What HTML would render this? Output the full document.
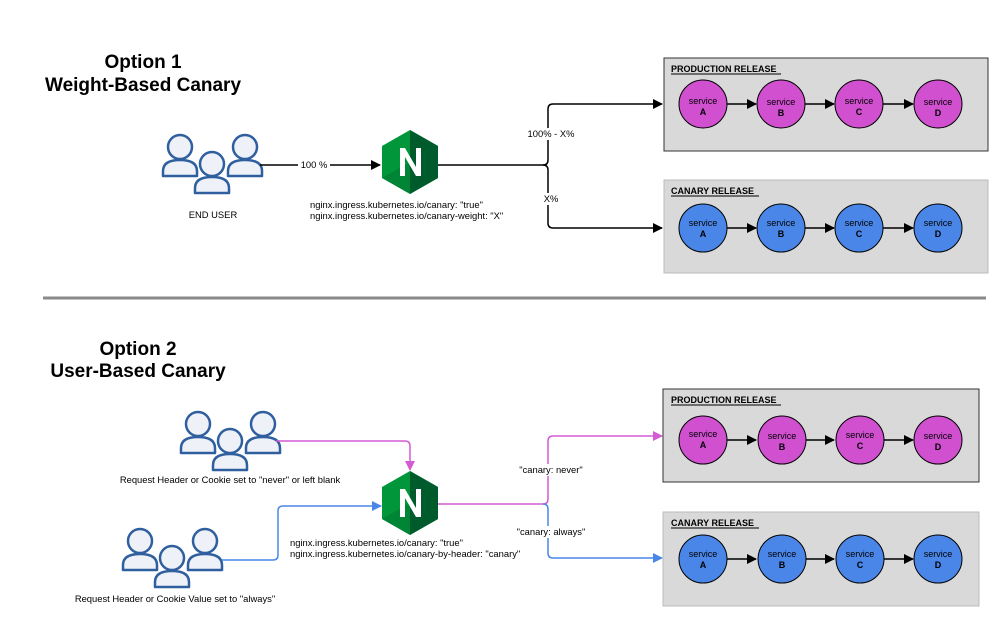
<!DOCTYPE html>
<html><head><meta charset="utf-8"><style>
body{margin:0;background:#fff}
svg{display:block;font-family:"Liberation Sans",Arial,sans-serif}
</style></head><body>
<svg width="1000" height="621" viewBox="0 0 1000 621" xmlns="http://www.w3.org/2000/svg">
<defs>
<marker id="ab" markerWidth="10" markerHeight="10" refX="9" refY="5" orient="auto" markerUnits="userSpaceOnUse"><path d="M0,0 L10,5 L0,10 Z" fill="#000"/></marker>
<marker id="ap" markerWidth="10" markerHeight="10" refX="9" refY="5" orient="auto" markerUnits="userSpaceOnUse"><path d="M0,0 L10,5 L0,10 Z" fill="#d35cd3"/></marker>
<marker id="abl" markerWidth="10" markerHeight="10" refX="9" refY="5" orient="auto" markerUnits="userSpaceOnUse"><path d="M0,0 L10,5 L0,10 Z" fill="#4a86e8"/></marker>
<g id="u"><circle cx="0" cy="-1" r="12" fill="#eef2f8" stroke="#2f5f9e" stroke-width="2.5"/><path d="M-17,28 V23 Q-17,12 0,12 Q17,12 17,23 V28 Z" fill="#eef2f8" stroke="#2f5f9e" stroke-width="2.5" stroke-linejoin="round"/></g>
<g id="users"><use href="#u" x="-32" y="-15"/><use href="#u" x="33" y="-15"/><use href="#u" x="0" y="2"/></g>
<g id="ng"><polygon points="0,-32 28,-16 28,16 0,32 -28,16 -28,-16" fill="#009639"/><polygon points="0,-32 28,-16 28,16 0,32" fill="#005b2c"/><polygon points="-28,16 0,32 0,0" fill="#007a35" opacity="0.6"/><path d="M-10,14 V-14 H-5 L6,5 V-14 H11 V14 H6 L-5,-5 V14 Z" fill="#fff"/></g>
</defs>

<g font-weight="bold" font-size="19" text-anchor="middle" fill="#000">
<text x="143" y="68">Option 1</text><text x="143" y="91">Weight-Based Canary</text>
<text x="138" y="355">Option 2</text><text x="138" y="377">User-Based Canary</text>
</g>
<line x1="43" y1="298" x2="986" y2="298" stroke="#8a8a8a" stroke-width="3"/>

<!-- Option 1 -->
<use href="#users" x="212" y="163"/>
<text x="213" y="218" font-size="9.4" text-anchor="middle">END USER</text>
<line x1="260" y1="165" x2="380" y2="165" stroke="#000" stroke-width="1.5" marker-end="url(#ab)"/>
<rect x="298" y="158" width="32" height="13" fill="#fff"/>
<text x="314" y="168" font-size="9.4" text-anchor="middle">100 %</text>
<use href="#ng" x="410" y="162"/>
<text x="310" y="208" font-size="9.4">nginx.ingress.kubernetes.io/canary: "true"</text>
<text x="310" y="219" font-size="9.4">nginx.ingress.kubernetes.io/canary-weight: "X"</text>
<path d="M438,165 H543 Q548,165 548,160 V109 Q548,104 553,104 H662" fill="none" stroke="#000" stroke-width="1.5" marker-end="url(#ab)"/>
<path d="M543,165 Q548,165 548,170 V223 Q548,228 553,228 H662" fill="none" stroke="#000" stroke-width="1.5" marker-end="url(#ab)"/>
<rect x="526" y="128" width="50" height="12" fill="#fff"/>
<text x="551" y="137" font-size="9.4" text-anchor="middle">100% - X%</text>
<rect x="540" y="193" width="22" height="12" fill="#fff"/>
<text x="551" y="202" font-size="9.4" text-anchor="middle">X%</text>

<!-- Option 2 -->
<use href="#users" x="230" y="440"/>
<text x="230" y="483" font-size="9.4" text-anchor="middle">Request Header or Cookie set to "never" or left blank</text>
<use href="#users" x="172" y="557"/>
<text x="175" y="602" font-size="9.4" text-anchor="middle">Request Header or Cookie Value set to "always"</text>
<path d="M276,441 H405 Q410,441 410,446 V470" fill="none" stroke="#d35cd3" stroke-width="1.5" marker-end="url(#ap)"/>
<path d="M222,560 H273 Q278,560 278,555 V511 Q278,506 283,506 H381" fill="none" stroke="#4a86e8" stroke-width="1.5" marker-end="url(#abl)"/>
<use href="#ng" x="410" y="503"/>
<text x="290" y="546" font-size="9.4">nginx.ingress.kubernetes.io/canary: "true"</text>
<text x="290" y="557" font-size="9.4">nginx.ingress.kubernetes.io/canary-by-header: "canary"</text>
<path d="M438,504 H543 Q548,504 548,499 V441 Q548,436 553,436 H662" fill="none" stroke="#d35cd3" stroke-width="1.5" marker-end="url(#ap)"/>
<path d="M543,504 Q548,504 548,509 V553 Q548,558 553,558 H662" fill="none" stroke="#4a86e8" stroke-width="1.5" marker-end="url(#abl)"/>
<rect x="514" y="464" width="74" height="12" fill="#fff"/>
<text x="551" y="473" font-size="9.4" text-anchor="middle">"canary: never"</text>
<rect x="512" y="526" width="78" height="12" fill="#fff"/>
<text x="551" y="535" font-size="9.4" text-anchor="middle">"canary: always"</text>

<!-- boxes -->
<g font-size="9">
<rect x="664" y="58" width="324" height="93" fill="#d9d9d9" stroke="#333" stroke-width="1"/>
<text x="671" y="72" font-weight="bold">PRODUCTION RELEASE</text><line x1="671" y1="74" x2="781" y2="74" stroke="#000"/>
<rect x="664" y="180" width="324" height="93" fill="#d9d9d9" stroke="#bbb" stroke-width="1"/>
<text x="671" y="194" font-weight="bold">CANARY RELEASE</text><line x1="671" y1="196" x2="759" y2="196" stroke="#000"/>
<rect x="663" y="389" width="316" height="93" fill="#d9d9d9" stroke="#333" stroke-width="1"/>
<text x="671" y="403" font-weight="bold">PRODUCTION RELEASE</text><line x1="671" y1="405" x2="781" y2="405" stroke="#000"/>
<rect x="663" y="512" width="316" height="94" fill="#d9d9d9" stroke="#bbb" stroke-width="1"/>
<text x="671" y="526" font-weight="bold">CANARY RELEASE</text><line x1="671" y1="528" x2="759" y2="528" stroke="#000"/>
</g>

<g font-size="9" text-anchor="middle" stroke-width="1">
<g>
<line x1="727" y1="104" x2="756" y2="104" stroke="#000" stroke-width="1.5" marker-end="url(#ab)"/>
<line x1="805" y1="104" x2="834" y2="104" stroke="#000" stroke-width="1.5" marker-end="url(#ab)"/>
<line x1="883" y1="104" x2="913" y2="104" stroke="#000" stroke-width="1.5" marker-end="url(#ab)"/>
<circle cx="703" cy="104" r="24" fill="#d050d0" stroke="#000"/><text x="703" y="104">service</text><text x="703" y="115" font-weight="bold">A</text>
<circle cx="781" cy="104" r="24" fill="#d050d0" stroke="#000"/><text x="781" y="105">service</text><text x="781" y="116" font-weight="bold">B</text>
<circle cx="859" cy="104" r="24" fill="#d050d0" stroke="#000"/><text x="859" y="104">service</text><text x="859" y="115" font-weight="bold">C</text>
<circle cx="938" cy="104" r="24" fill="#d050d0" stroke="#000"/><text x="938" y="105">service</text><text x="938" y="116" font-weight="bold">D</text>
</g>
<g>
<line x1="727" y1="228" x2="756" y2="228" stroke="#000" stroke-width="1.5" marker-end="url(#ab)"/>
<line x1="805" y1="228" x2="834" y2="228" stroke="#000" stroke-width="1.5" marker-end="url(#ab)"/>
<line x1="883" y1="228" x2="913" y2="228" stroke="#000" stroke-width="1.5" marker-end="url(#ab)"/>
<circle cx="703" cy="228" r="24" fill="#4a86e8" stroke="#000"/><text x="703" y="226">service</text><text x="703" y="237" font-weight="bold">A</text>
<circle cx="781" cy="228" r="24" fill="#4a86e8" stroke="#000"/><text x="781" y="226">service</text><text x="781" y="237" font-weight="bold">B</text>
<circle cx="859" cy="228" r="24" fill="#4a86e8" stroke="#000"/><text x="859" y="226">service</text><text x="859" y="237" font-weight="bold">C</text>
<circle cx="938" cy="228" r="24" fill="#4a86e8" stroke="#000"/><text x="938" y="226">service</text><text x="938" y="237" font-weight="bold">D</text>
</g>
<g>
<line x1="727" y1="440" x2="756" y2="440" stroke="#000" stroke-width="1.5" marker-end="url(#ab)"/>
<line x1="806" y1="440" x2="834" y2="440" stroke="#000" stroke-width="1.5" marker-end="url(#ab)"/>
<line x1="884" y1="440" x2="913" y2="440" stroke="#000" stroke-width="1.5" marker-end="url(#ab)"/>
<circle cx="703" cy="440" r="24" fill="#d050d0" stroke="#000"/><text x="703" y="437">service</text><text x="703" y="448" font-weight="bold">A</text>
<circle cx="782" cy="440" r="24" fill="#d050d0" stroke="#000"/><text x="782" y="439">service</text><text x="782" y="450" font-weight="bold">B</text>
<circle cx="860" cy="440" r="24" fill="#d050d0" stroke="#000"/><text x="860" y="438">service</text><text x="860" y="449" font-weight="bold">C</text>
<circle cx="938" cy="440" r="24" fill="#d050d0" stroke="#000"/><text x="938" y="439">service</text><text x="938" y="450" font-weight="bold">D</text>
</g>
<g>
<line x1="727" y1="559" x2="756" y2="559" stroke="#000" stroke-width="1.5" marker-end="url(#ab)"/>
<line x1="806" y1="559" x2="834" y2="559" stroke="#000" stroke-width="1.5" marker-end="url(#ab)"/>
<line x1="884" y1="559" x2="913" y2="559" stroke="#000" stroke-width="1.5" marker-end="url(#ab)"/>
<circle cx="703" cy="559" r="24" fill="#4a86e8" stroke="#000"/><text x="703" y="557">service</text><text x="703" y="568" font-weight="bold">A</text>
<circle cx="782" cy="559" r="24" fill="#4a86e8" stroke="#000"/><text x="782" y="557">service</text><text x="782" y="568" font-weight="bold">B</text>
<circle cx="860" cy="559" r="24" fill="#4a86e8" stroke="#000"/><text x="860" y="557">service</text><text x="860" y="568" font-weight="bold">C</text>
<circle cx="938" cy="559" r="24" fill="#4a86e8" stroke="#000"/><text x="938" y="557">service</text><text x="938" y="568" font-weight="bold">D</text>
</g>
</g>
</svg>
</body></html>
